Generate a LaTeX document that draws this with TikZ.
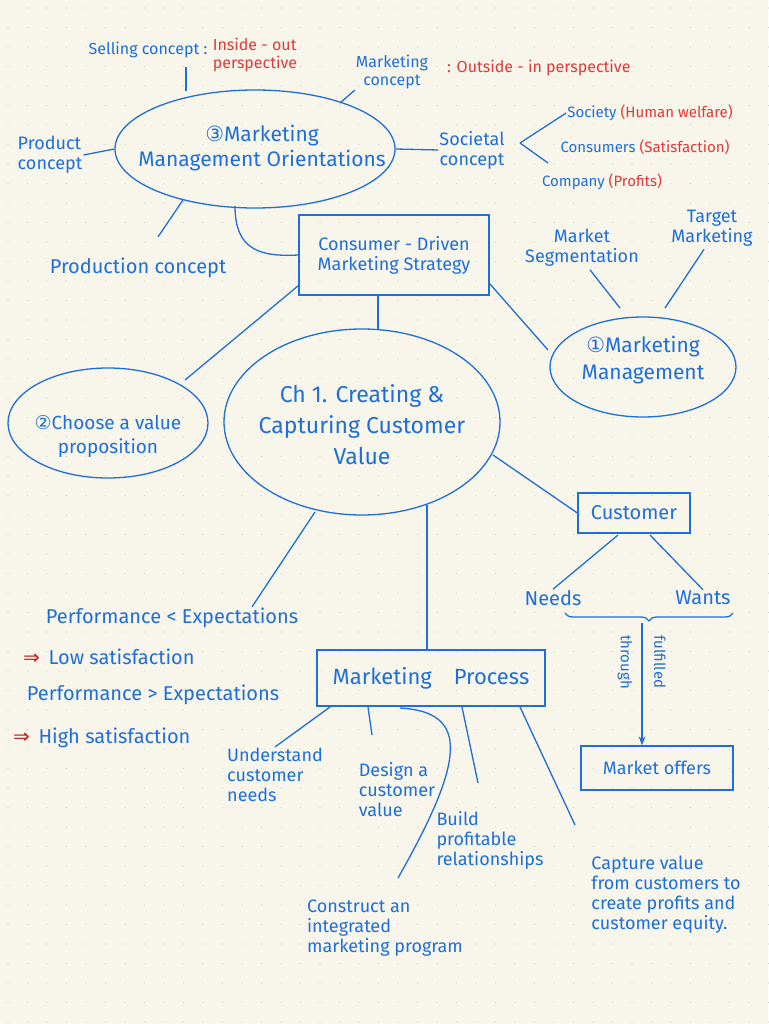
\documentclass[tikz,border=0pt]{standalone}
\usepackage{fontspec}
\setmainfont{Fira Sans}
\newfontfamily\symf{DejaVu Sans}
\usetikzlibrary{shapes.geometric,decorations.pathreplacing,arrows.meta}
\definecolor{bg}{HTML}{F8F5EA}
\definecolor{ink}{HTML}{1E6FD9}
\definecolor{rd}{HTML}{E03A3A}
\definecolor{dark}{HTML}{C81E1E}
\begin{document}
\begin{tikzpicture}[x=1pt,y=-1pt,
 txt/.style={text=ink,font=\fontsize{18}{20}\selectfont,align=center,inner sep=1pt},
 rtxt/.style={text=rd,font=\fontsize{16}{18}\selectfont,align=left,inner sep=1pt},
 oval/.style={draw=ink,ellipse,line width=1.3pt,inner sep=0pt},
 boxx/.style={draw=ink,rectangle,line width=1.3pt},
 ln/.style={draw=ink,line width=1.3pt}]
\fill[bg] (0,0) rectangle (768,1024);
\useasboundingbox (0,0) rectangle (768,1024);
\foreach \i in {0,...,40}{\foreach \j in {0,...,52}{\fill[black!18] (\i*19.5+8,\j*19.5+8) circle (0.6);}}
% orientation ellipse
\node[oval,minimum width=280,minimum height=118] (mmo) at (255,149) {};
\node[txt,font=\fontsize{21}{25}\selectfont] (mmot) at (262,148) {\symf ③\fontspec{Fira Sans}Marketing\\Management Orientations};
\node[txt,font=\fontsize{16}{18}\selectfont] (sell) at (148,50) {Selling concept :};
\node[rtxt] (io) at (255,55) {Inside - out\\perspective};
\node[txt,font=\fontsize{16}{18}\selectfont] (mkc) at (392,72) {Marketing\\concept};
\node[rtxt,anchor=west] (oi) at (446,68) {: Outside - in perspective};
\node[txt,align=left] (prod) at (50,155) {Product\\concept};
\node[txt] (soc) at (472,150) {Societal\\concept};
\node[txt,font=\fontsize{15}{17}\selectfont] (s1) at (650,113) {Society \textcolor{rd}{(Human welfare)}};
\node[txt,font=\fontsize{15}{17}\selectfont] (s2) at (645,147) {Consumers \textcolor{rd}{(Satisfaction)}};
\node[txt,font=\fontsize{15}{17}\selectfont] (s3) at (602,182) {Company \textcolor{rd}{(Profits)}};
\node[txt,font=\fontsize{20}{22}\selectfont] (pc) at (138,268) {Production concept};
\node[boxx,minimum width=190,minimum height=80,txt] (cdm) at (394,255) {Consumer - Driven\\Marketing Strategy};
\node[txt] (seg) at (582,248) {Market\\Segmentation};
\node[txt] (tgt) at (712,228) {Target\\Marketing};
\node[oval,minimum width=186,minimum height=100] (mm) at (643,367) {};
\node[txt,font=\fontsize{21}{27}\selectfont] at (643,360) {\symf ①\fontspec{Fira Sans}Marketing\\Management};
\node[oval,minimum width=200,minimum height=110] (cv) at (108,423) {};
\node[txt,font=\fontsize{19}{24}\selectfont] at (108,436) {\symf ②\fontspec{Fira Sans} Choose a value\\proposition};
\node[oval,minimum width=276,minimum height=186] (ch) at (362,422) {};
\node[txt,font=\fontsize{23}{31}\selectfont] at (362,425) {Ch 1. Creating \&\\Capturing Customer\\Value};
\node[boxx,minimum width=112,minimum height=40,txt,font=\fontsize{20}{22}\selectfont] (cust) at (634,513) {Customer};
\node[txt,font=\fontsize{20}{22}\selectfont] (needs) at (553,598) {Needs};
\node[txt,font=\fontsize{20}{22}\selectfont] (wants) at (703,598) {Wants};
\draw[ln,decorate,decoration={brace,amplitude=8pt,mirror}] (565,613) -- (733,613);
\coordinate (ar1) at (642,623);
\node[boxx,minimum width=152,minimum height=44,txt] (mo) at (657,768) {Market offers};
\draw[ln,-{Stealth[length=9pt]}] (ar1) -- (mo.north-|ar1);
\node[txt,rotate=-90,font=\fontsize{15}{17}\selectfont] at (625,662) {through};
\node[txt,rotate=-90,font=\fontsize{15}{17}\selectfont] at (660,662) {fulfilled};
\node[txt,font=\fontsize{20}{22}\selectfont] (pe1) at (172,618) {Performance < Expectations};
\node[txt,font=\fontsize{20}{22}\selectfont,anchor=west] (ls) at (22,657) {\textcolor{dark}{\symf ⇒}\, Low satisfaction};
\node[txt,font=\fontsize{20}{22}\selectfont] (pe2) at (153,695) {Performance > Expectations};
\node[txt,font=\fontsize{20}{22}\selectfont,anchor=west] (hs) at (12,738) {\textcolor{dark}{\symf ⇒}\, High satisfaction};
\node[boxx,minimum width=228,minimum height=56,txt,font=\fontsize{22}{24}\selectfont] (mp) at (431,678) {Marketing\quad Process};
\node[txt,align=left] (u) at (275,775) {Understand\\customer\\needs};
\node[txt,align=left] (d) at (397,790) {Design a\\customer\\value};
\node[txt,align=left] (b) at (490,840) {Build\\profitable\\relationships};
\node[txt,align=left] (c) at (385,928) {Construct an\\integrated\\marketing program};
\node[txt,align=left] (cap) at (666,895) {Capture value\\from customers to\\create profits and\\customer equity.};
% connectors
\draw[ln] (sell.south-|186,0) ++(0,8) -- (186,91);
\draw[ln] (340,103) -- (mkc.south west);
\draw[ln] (prod.east) -- (mmo.west);
\draw[ln] (mmo.east) -- (soc.west);
\draw[ln] (520,143) -- (s1.west);
\draw[ln] (520,143) -- (548,163);
\draw[ln] (pc.north) ++(20,-20) -- (183,200);
\draw[ln] (235,206) .. controls (235,250) and (260,257) .. (cdm.west);
\draw[ln] (cdm.south) ++(-16,0) -- (378,329);
\draw[ln] (cdm.south west) ++(0,-10) -- (185,380);
\draw[ln] (cdm.south east) ++(0,-12) -- (548,350);
\draw[ln] (seg.south) ++(8,2) -- (620,308);
\draw[ln] (tgt.south) ++(-8,2) -- (665,308);
\draw[ln] (493,455) -- (cust.west);
\draw[ln] (315,512) -- (pe1.north-|252,0);
\draw[ln] (427,505) -- (mp.north-|427,0);
\draw[ln] (618,535) -- (needs.north);
\draw[ln] (650,535) -- (wants.north);
\draw[ln] (330,707) -- (u.north);
\draw[ln] (368,707) -- (372,735);
\draw[ln] (400,708) .. controls (470,712) and (465,760) .. (398,878);
\draw[ln] (462,707) -- (478,783);
\draw[ln] (520,707) -- (575,825);
\end{tikzpicture}
\end{document}
